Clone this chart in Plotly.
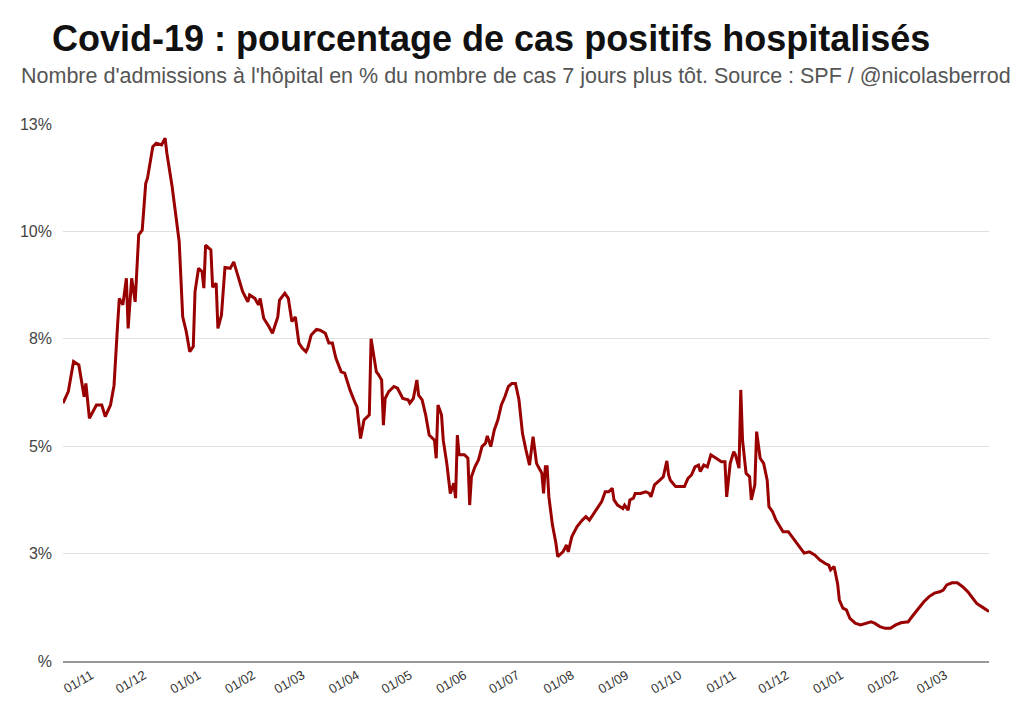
import pandas as pd
import plotly.graph_objects as go

# Jours écoulés depuis le 16/10/2020
jours = [0, 3, 6, 9, 12, 13, 15, 19, 22, 24, 27, 29, 31, 32, 34, 36, 37, 39, 41, 43,
         45, 47, 48, 51, 53, 56, 58, 59, 62, 64, 66, 68, 70, 72, 74, 75, 77, 79, 80, 81,
         84, 85, 87, 88, 90, 92, 95, 97, 99, 102, 105, 106, 109, 111, 112, 114, 117, 119, 122, 123,
         126, 128, 130, 132, 134, 136, 138, 139, 141, 144, 146, 149, 151, 153, 155, 158, 160, 163, 166, 167,
         169, 171, 173, 174, 175, 178, 179, 181, 182, 183, 185, 188, 190, 193, 196, 197, 199, 201, 202, 204,
         206, 208, 211, 212, 213, 215, 216, 218, 220, 222, 223, 224, 225, 228, 230, 231, 232, 234, 236, 238,
         240, 241, 243, 245, 247, 249, 251, 253, 255, 257, 259, 261, 263, 265, 267, 269, 270, 272, 273, 274,
         275, 276, 278, 280, 281, 284, 286, 287, 289, 292, 295, 297, 299, 301, 303, 306, 308, 310, 312, 313,
         315, 318, 319, 321, 322, 324, 325, 328, 331, 333, 334, 336, 339, 341, 343, 344, 345, 348, 351, 353,
         355, 357, 359, 361, 362, 364, 366, 368, 371, 374, 376, 377, 379, 381, 382, 384, 385, 386, 388, 390,
         391, 393, 394, 396, 398, 400, 401, 403, 405, 407, 409, 412, 414, 417, 419, 421, 424, 427, 430, 433,
         435, 436, 438, 440, 441, 443, 445, 447, 450, 453, 456, 459, 461, 464, 467, 470, 473, 476, 479, 480,
         483, 486, 489, 492, 495, 498, 500, 502, 505, 508, 511, 514, 517, 519, 522, 525, 526]

# Admissions à l'hôpital en % des cas 7 jours plus tôt
pourcentage = [6.00, 6.27, 6.97, 6.89, 6.15, 6.46, 5.65, 5.96, 5.96, 5.69, 5.96, 6.42, 7.82, 8.44, 8.29, 8.91, 7.74, 8.91, 8.36, 9.92,
               10.03, 11.12, 11.24, 11.97, 12.05, 12.01, 12.17, 11.82, 11.04, 10.46, 9.76, 8.01, 7.67, 7.20, 7.32, 8.60, 9.14, 9.06, 8.68, 9.68,
               9.57, 8.70, 8.79, 7.74, 8.05, 9.16, 9.14, 9.29, 8.99, 8.60, 8.36, 8.52, 8.44, 8.29, 8.44, 7.98, 7.78, 7.63, 8.01, 8.40,
               8.56, 8.44, 7.90, 8.01, 7.40, 7.28, 7.20, 7.28, 7.59, 7.72, 7.70, 7.63, 7.40, 7.40, 7.05, 6.73, 6.70, 6.31, 6.00, 5.92,
               5.18, 5.61, 5.69, 5.73, 7.50, 6.73, 6.68, 6.54, 5.49, 6.11, 6.27, 6.39, 6.35, 6.11, 6.08, 6.00, 6.11, 6.54, 6.19, 6.08,
               5.73, 5.26, 5.14, 4.72, 5.96, 5.73, 5.14, 4.60, 3.90, 4.14, 3.79, 5.26, 4.80, 4.80, 4.72, 3.63, 4.29, 4.52, 4.68, 4.99,
               5.07, 5.24, 4.99, 5.38, 5.61, 5.96, 6.15, 6.39, 6.46, 6.46, 6.08, 5.30, 4.91, 4.56, 5.22, 4.60, 4.52, 4.37, 3.90, 4.52,
               4.52, 3.82, 3.17, 2.74, 2.43, 2.54, 2.70, 2.54, 2.89, 3.13, 3.28, 3.36, 3.28, 3.40, 3.51, 3.71, 3.94, 3.94, 4.02, 3.75,
               3.63, 3.55, 3.63, 3.51, 3.75, 3.79, 3.90, 3.90, 3.94, 3.90, 3.82, 4.10, 4.21, 4.29, 4.66, 4.33, 4.21, 4.06, 4.06, 4.06,
               4.25, 4.33, 4.52, 4.56, 4.41, 4.56, 4.52, 4.80, 4.72, 4.64, 4.64, 3.82, 4.60, 4.87, 4.80, 4.49, 6.31, 5.14, 4.37, 4.29,
               3.75, 4.10, 5.34, 4.72, 4.60, 4.21, 3.59, 3.48, 3.28, 3.13, 3.01, 3.01, 2.89, 2.74, 2.62, 2.51, 2.54, 2.47, 2.35, 2.27,
               2.23, 2.12, 2.20, 1.80, 1.42, 1.23, 1.19, 0.99, 0.88, 0.84, 0.88, 0.91, 0.88, 0.80, 0.76, 0.76, 0.84, 0.89, 0.91, 0.91,
               1.07, 1.23, 1.38, 1.50, 1.58, 1.61, 1.65, 1.77, 1.82, 1.82, 1.73, 1.61, 1.46, 1.34, 1.26, 1.17, 1.15]

debut = "2020-10-16"
mois_ticks = ["2020-11-01", "2020-12-01", "2021-01-01", "2021-02-01", "2021-03-01", "2021-04-01",
              "2021-05-01", "2021-06-01", "2021-07-01", "2021-08-01", "2021-09-01", "2021-10-01",
              "2021-11-01", "2021-12-01", "2022-01-01", "2022-02-01", "2022-03-01"]
y_ticks = [0, 2.5, 5, 7.5, 10, 12.5]
y_labels = ["%", "3%", "5%", "8%", "10%", "13%"]

dates = pd.Timestamp(debut) + pd.to_timedelta(jours, unit="D")

fig = go.Figure()
fig.add_trace(go.Scatter(x=dates, y=pourcentage, mode="lines",
                         line=dict(color="#990000", width=3), hoverinfo="x+y"))

fig.update_layout(
    width=1012, height=701,
    margin=dict(l=55, r=31, t=116, b=48),
    paper_bgcolor="white", plot_bgcolor="white",
    font=dict(family="Liberation Sans, Arial, sans-serif", color="#444"),
    showlegend=False,
    annotations=[
        dict(text="<b>Covid-19 : pourcentage de cas positifs hospitalisés</b>",
             xref="paper", yref="paper", x=0.462, y=1, yshift=86, xanchor="center", yanchor="middle",
             showarrow=False, font=dict(size=36, color="#111")),
        dict(text="Nombre d'admissions à l'hôpital en % du nombre de cas 7 jours plus tôt. Source : SPF / @nicolasberrod",
             xref="paper", yref="paper", x=0.4887, y=1, yshift=48, xanchor="center", yanchor="middle",
             showarrow=False, font=dict(size=21.5, color="#555")),
    ],
)

fig.update_xaxes(
    range=[dates[0], dates[-1]],
    tickvals=pd.to_datetime(mois_ticks), tickformat="%d/%m", tickangle=-30,
    tickfont=dict(size=13, color="#333"),
    showgrid=False, showline=True, linecolor="#999", linewidth=2,
    ticks="", zeroline=False,
)
fig.update_yaxes(
    range=[0, 12.5], tickvals=y_ticks, ticktext=y_labels,
    tickfont=dict(size=16, color="#444"),
    showgrid=True, gridcolor="#e0e0e0", gridwidth=1,
    zeroline=False, showline=False, ticks="", ticklabelstandoff=10,
)

fig.write_html("out.html")
